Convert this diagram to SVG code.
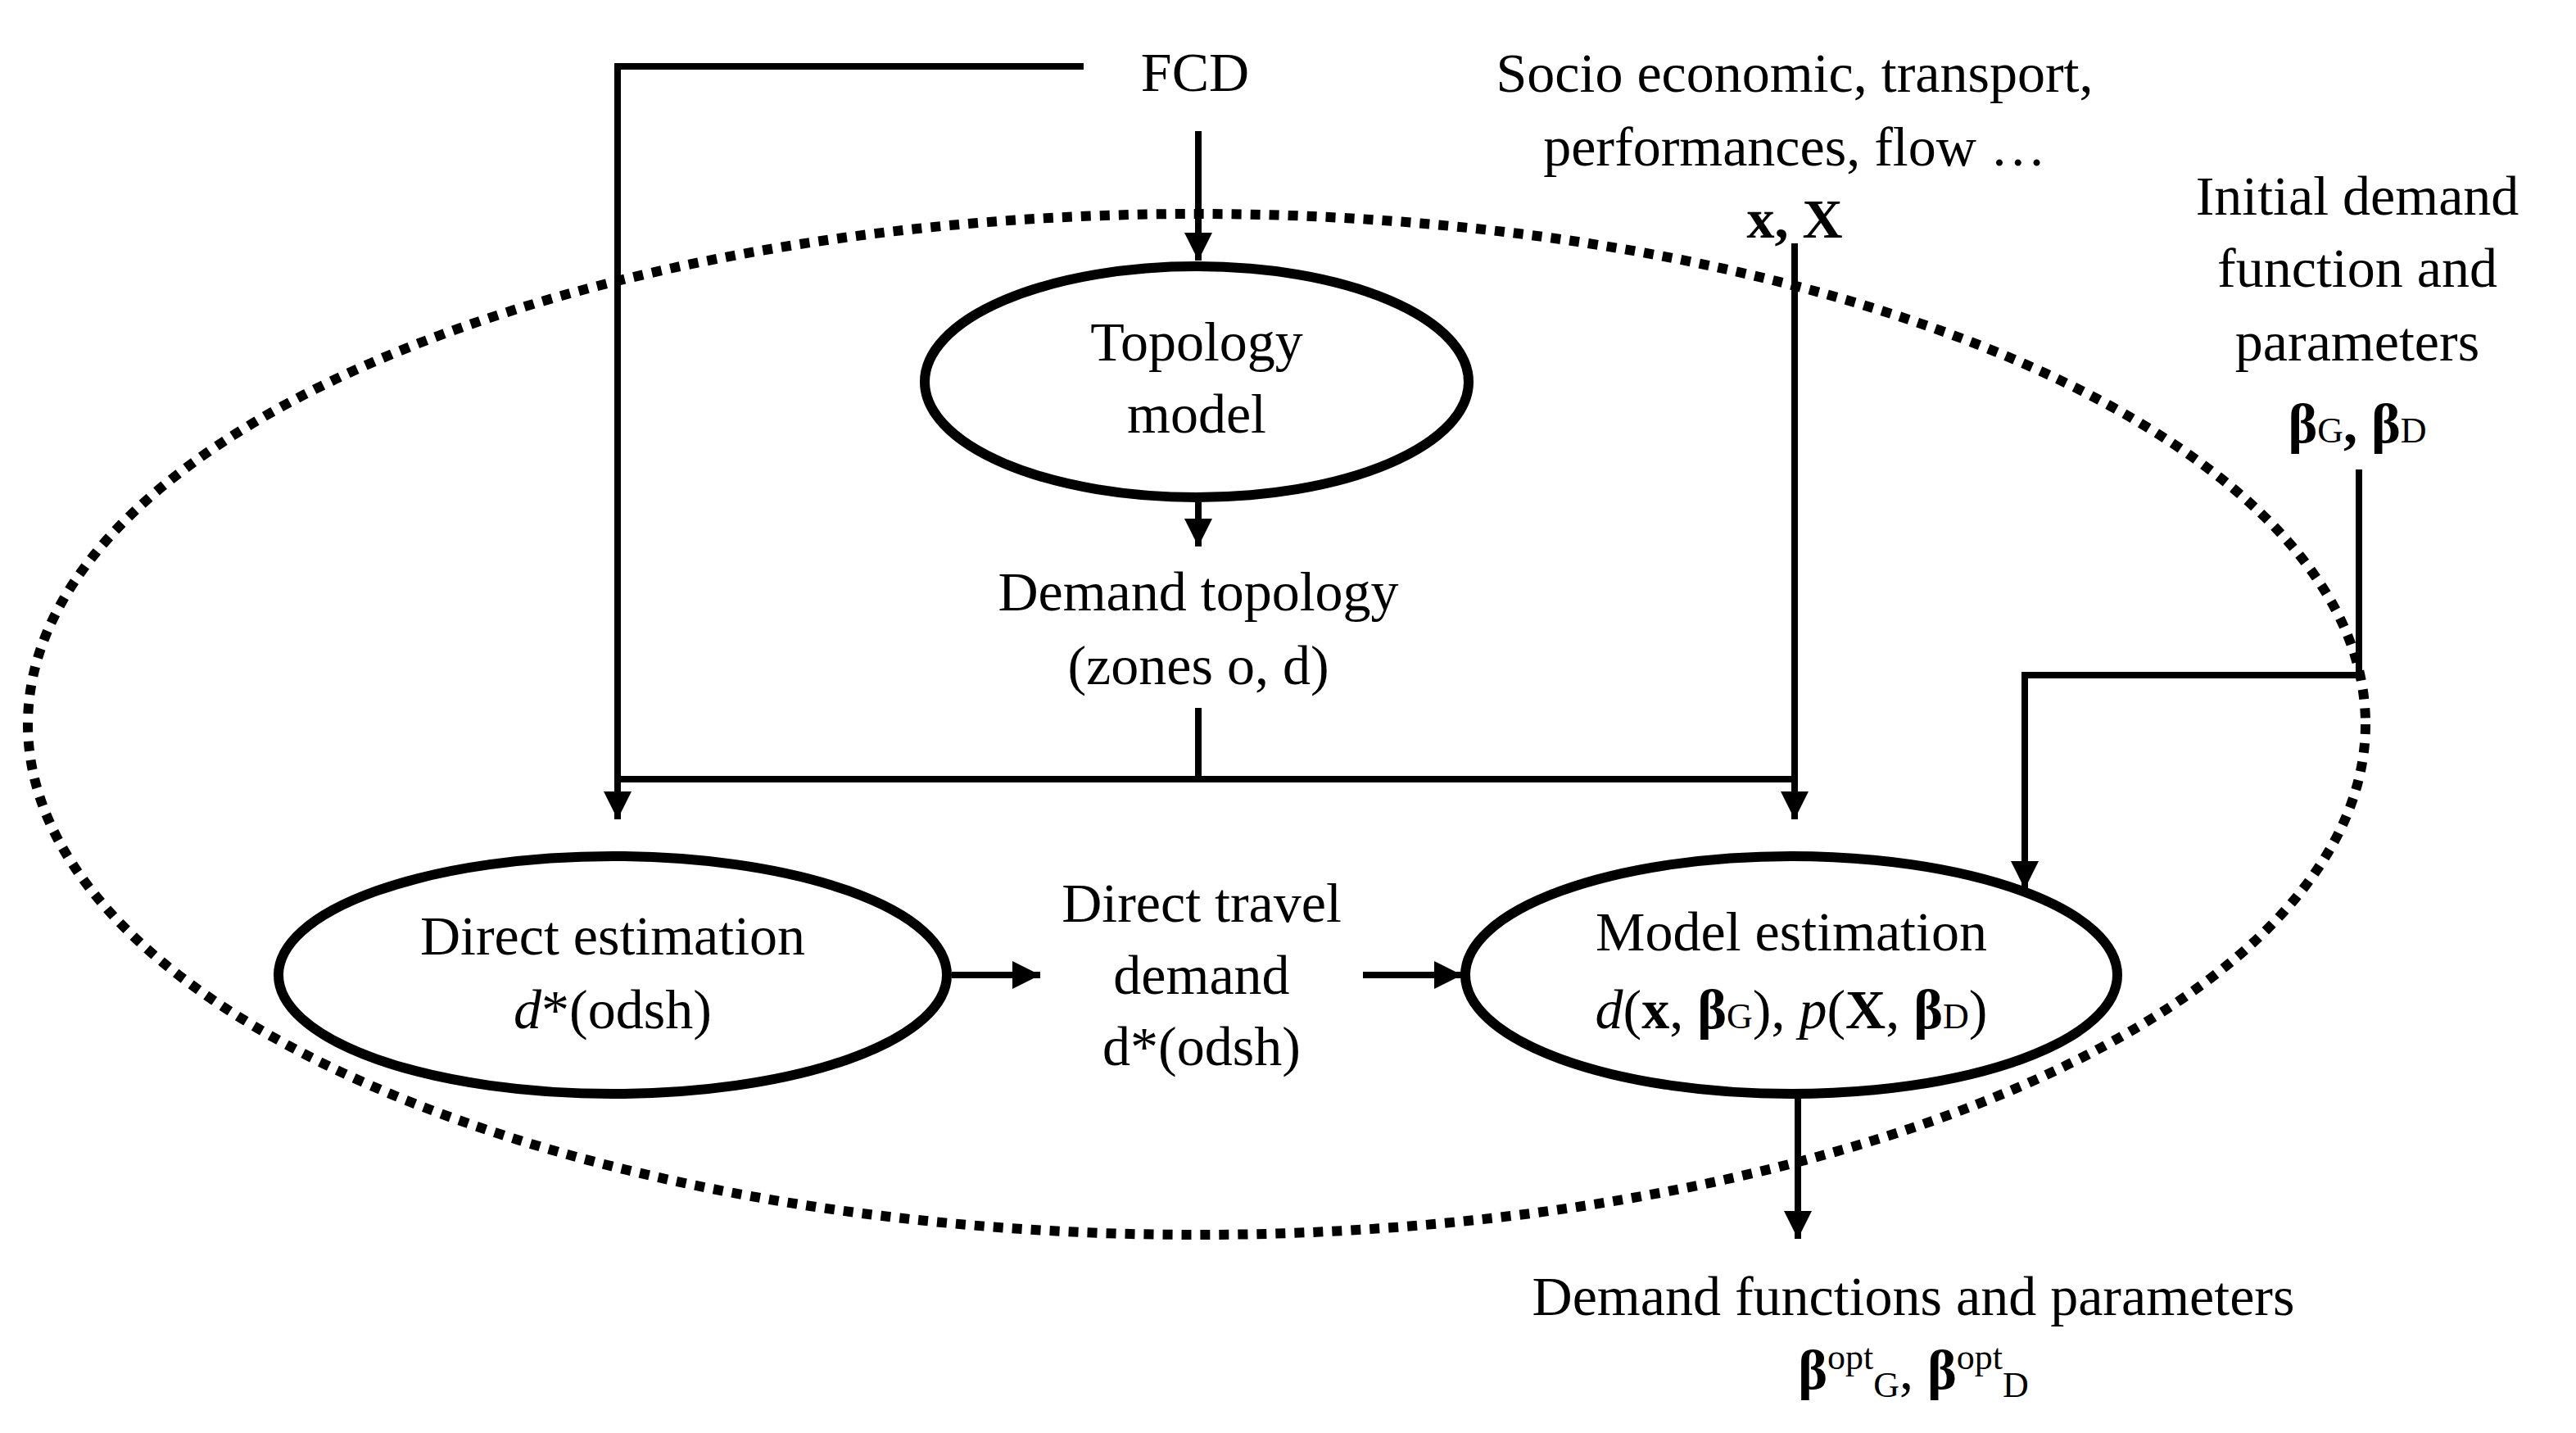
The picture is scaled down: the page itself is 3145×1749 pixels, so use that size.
<svg xmlns="http://www.w3.org/2000/svg" width="3145" height="1749" viewBox="0 0 3145 1749">
<style>
text{font-family:"Liberation Serif","Times New Roman",serif;font-size:68px;fill:#000;text-anchor:middle}
.b{font-weight:bold}
.i{font-style:italic}
.node{fill:#fff;stroke:#000;stroke-width:12}
.c{fill:none;stroke:#000;stroke-width:8;stroke-linecap:butt}
</style>
<defs>
<marker id="ah" markerUnits="userSpaceOnUse" markerWidth="34" markerHeight="40" refX="34" refY="17" orient="auto" viewBox="0 0 34 34">
<path d="M0,0 L34,17 L0,34 Z" fill="#000"/>
</marker>
</defs>
<rect width="3145" height="1749" fill="#fff"/>
<g id="boundary"><ellipse cx="1461" cy="884" rx="1427" ry="623" fill="none" stroke="#000" stroke-width="12" stroke-dasharray="12 11"/></g>
<g id="connectors">
<path class="c" d="M1323,81 H754 V1000" marker-end="url(#ah)"/>
<path class="c" d="M1463,160 V318" marker-end="url(#ah)"/>
<path class="c" d="M1463,613 V667" marker-end="url(#ah)"/>
<path class="c" d="M1463,864 V951"/>
<path class="c" d="M754,951 H2191"/>
<path class="c" d="M2191,297 V1000" marker-end="url(#ah)"/>
<path class="c" d="M2880,573 V824 H2472 V1085" marker-end="url(#ah)"/>
<path class="c" d="M1162,1190 H1270" marker-end="url(#ah)"/>
<path class="c" d="M1664,1190 H1785" marker-end="url(#ah)"/>
<path class="c" d="M2195,1337 V1512" marker-end="url(#ah)"/>
</g>
<g id="fcd"><text x="1459" y="111">FCD</text></g>
<g id="socio">
<text x="2191" y="112">Socio economic, transport,</text>
<text x="2191" y="202">performances, flow …</text>
<text x="2191" y="290" class="b">x, X</text>
</g>
<g id="initial">
<text x="2878" y="262">Initial demand</text>
<text x="2878" y="350">function and</text>
<text x="2878" y="440">parameters</text>
<text x="2878" y="540" class="b">β<tspan font-weight="normal" font-size="44">G</tspan>, β<tspan font-weight="normal" font-size="44">D</tspan></text>
</g>
<g id="topology">
<ellipse class="node" cx="1461" cy="466" rx="332" ry="141"/>
<text x="1461" y="440">Topology</text>
<text x="1461" y="528">model</text>
</g>
<g id="demand-topology">
<text x="1463" y="745">Demand topology</text>
<text x="1463" y="835">(zones o, d)</text>
</g>
<g id="direct-estimation">
<ellipse class="node" cx="748" cy="1190" rx="408" ry="145"/>
<text x="748" y="1165">Direct estimation</text>
<text x="748" y="1255"><tspan class="i">d</tspan>*(odsh)</text>
</g>
<g id="direct-demand">
<text x="1467" y="1125">Direct travel</text>
<text x="1467" y="1213">demand</text>
<text x="1467" y="1300">d*(odsh)</text>
</g>
<g id="model-estimation">
<ellipse class="node" cx="2187" cy="1190" rx="398" ry="145"/>
<text x="2187" y="1160">Model estimation</text>
<text x="2187" y="1255"><tspan class="i">d</tspan>(<tspan class="b">x</tspan>, <tspan class="b">β</tspan><tspan font-size="44">G</tspan>), <tspan class="i">p</tspan>(<tspan class="b">X</tspan>, <tspan class="b">β</tspan><tspan font-size="44">D</tspan>)</text>
</g>
<g id="output">
<text x="2336" y="1605">Demand functions and parameters</text>
<text x="2336" y="1695"><tspan class="b">β</tspan><tspan font-size="44" dy="-24">opt</tspan><tspan font-size="44" dy="34">G</tspan><tspan dy="-10">, </tspan><tspan class="b">β</tspan><tspan font-size="44" dy="-24">opt</tspan><tspan font-size="44" dy="34">D</tspan></text>
</g>
</svg>
